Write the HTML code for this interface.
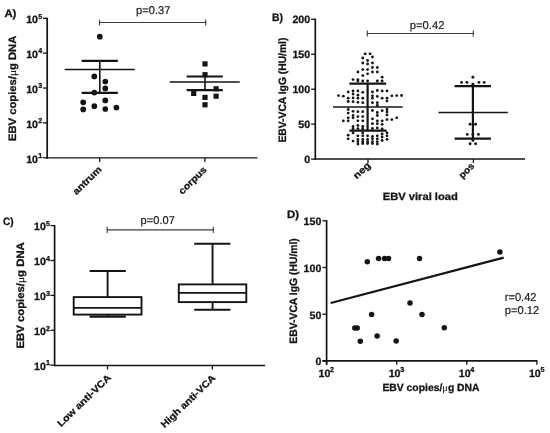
<!DOCTYPE html>
<html lang="en">
<head>
<meta charset="utf-8">
<title>EBV figure</title>
<style>
html,body{margin:0;padding:0;background:#fff;}
body{width:550px;height:433px;overflow:hidden;}
svg{display:block;}
svg g.soft{filter:blur(0.4px);}
svg text{font-family:"Liberation Sans",Arial,Helvetica,sans-serif;fill:#141414;text-rendering:geometricPrecision;}
svg text.b{font-weight:bold;stroke:#141414;stroke-width:0.3px;}
svg tspan.mu{font-weight:normal;font-family:"Liberation Serif","DejaVu Serif",serif;stroke-width:0.15px;}
svg text.r{font-weight:normal;stroke:#2a2a2a;stroke-width:0.2px;}
</style>
</head>
<body>
<svg width="550" height="433" viewBox="0 0 550 433">
<rect x="0" y="0" width="550" height="433" fill="#ffffff"/>
<g class="soft">
<g id="panelA">
<text font-size="10.8" class="b" textLength="12.00" lengthAdjust="spacingAndGlyphs" transform="translate(4.40 16.90)">A)</text>
<line x1="47.20" y1="17.70" x2="47.20" y2="158.60" stroke="#141414" stroke-width="1.7" stroke-linecap="butt"/>
<line x1="46.50" y1="157.90" x2="257.50" y2="157.90" stroke="#141414" stroke-width="1.4" stroke-linecap="butt"/>
<line x1="43.00" y1="157.78" x2="47.20" y2="157.78" stroke="#141414" stroke-width="1.3" stroke-linecap="butt"/>
<text font-size="10.6" class="b" transform="translate(26.20 162.58)">10</text>
<text font-size="7.2" class="b" transform="translate(38.20 157.98)">1</text>
<line x1="43.00" y1="122.91" x2="47.20" y2="122.91" stroke="#141414" stroke-width="1.3" stroke-linecap="butt"/>
<text font-size="10.6" class="b" transform="translate(26.20 127.71)">10</text>
<text font-size="7.2" class="b" transform="translate(38.20 123.11)">2</text>
<line x1="43.00" y1="88.04" x2="47.20" y2="88.04" stroke="#141414" stroke-width="1.3" stroke-linecap="butt"/>
<text font-size="10.6" class="b" transform="translate(26.20 92.84)">10</text>
<text font-size="7.2" class="b" transform="translate(38.20 88.24)">3</text>
<line x1="43.00" y1="53.17" x2="47.20" y2="53.17" stroke="#141414" stroke-width="1.3" stroke-linecap="butt"/>
<text font-size="10.6" class="b" transform="translate(26.20 57.97)">10</text>
<text font-size="7.2" class="b" transform="translate(38.20 53.37)">4</text>
<line x1="43.00" y1="18.30" x2="47.20" y2="18.30" stroke="#141414" stroke-width="1.3" stroke-linecap="butt"/>
<text font-size="10.6" class="b" transform="translate(26.20 23.10)">10</text>
<text font-size="7.2" class="b" transform="translate(38.20 18.50)">5</text>
<line x1="99.70" y1="157.90" x2="99.70" y2="161.90" stroke="#141414" stroke-width="1.3" stroke-linecap="butt"/>
<line x1="204.90" y1="157.90" x2="204.90" y2="161.90" stroke="#141414" stroke-width="1.3" stroke-linecap="butt"/>
<text font-size="10.7" class="b" textLength="105.40" lengthAdjust="spacingAndGlyphs" transform="translate(15.80 141.10) rotate(-90)">EBV copies/<tspan class="mu">μ</tspan>g DNA</text>
<line x1="99.00" y1="22.50" x2="206.20" y2="22.50" stroke="#3c3c3c" stroke-width="1.1" stroke-linecap="butt"/>
<line x1="99.50" y1="19.60" x2="99.50" y2="25.60" stroke="#3c3c3c" stroke-width="1.1" stroke-linecap="butt"/>
<line x1="205.70" y1="19.60" x2="205.70" y2="25.60" stroke="#3c3c3c" stroke-width="1.1" stroke-linecap="butt"/>
<text font-size="11.3" class="r" textLength="34.30" lengthAdjust="spacingAndGlyphs" transform="translate(136.10 14.10)" fill="#2a2a2a">p=0.37</text>
<g fill="#141414">
<circle cx="99.80" cy="36.70" r="2.85"/>
<circle cx="94.30" cy="76.40" r="2.85"/>
<circle cx="105.30" cy="81.50" r="2.85"/>
<circle cx="105.30" cy="88.40" r="2.85"/>
<circle cx="94.30" cy="92.60" r="2.85"/>
<circle cx="105.30" cy="100.40" r="2.85"/>
<circle cx="83.20" cy="102.30" r="2.85"/>
<circle cx="94.30" cy="106.20" r="2.85"/>
<circle cx="116.40" cy="107.60" r="2.85"/>
<circle cx="105.30" cy="109.00" r="2.85"/>
<circle cx="83.20" cy="109.40" r="2.85"/>
<rect x="202.40" y="61.30" width="5.2" height="5.2"/>
<rect x="202.40" y="72.10" width="5.2" height="5.2"/>
<rect x="213.50" y="86.20" width="5.2" height="5.2"/>
<rect x="191.10" y="90.80" width="5.2" height="5.2"/>
<rect x="213.50" y="93.60" width="5.2" height="5.2"/>
<rect x="202.40" y="94.80" width="5.2" height="5.2"/>
<rect x="202.40" y="102.20" width="5.2" height="5.2"/>
</g>
<line x1="99.80" y1="60.90" x2="99.80" y2="92.80" stroke="#141414" stroke-width="1.6" stroke-linecap="butt"/>
<line x1="81.60" y1="60.90" x2="117.80" y2="60.90" stroke="#141414" stroke-width="2.2" stroke-linecap="butt"/>
<line x1="81.60" y1="92.80" x2="117.80" y2="92.80" stroke="#141414" stroke-width="2.2" stroke-linecap="butt"/>
<line x1="64.70" y1="69.40" x2="134.70" y2="69.40" stroke="#141414" stroke-width="1.5" stroke-linecap="butt"/>
<line x1="205.00" y1="76.50" x2="205.00" y2="90.10" stroke="#141414" stroke-width="1.6" stroke-linecap="butt"/>
<line x1="186.60" y1="76.50" x2="222.80" y2="76.50" stroke="#141414" stroke-width="2.2" stroke-linecap="butt"/>
<line x1="186.60" y1="90.10" x2="222.80" y2="90.10" stroke="#141414" stroke-width="2.2" stroke-linecap="butt"/>
<line x1="169.70" y1="82.00" x2="239.70" y2="82.00" stroke="#141414" stroke-width="1.5" stroke-linecap="butt"/>
<text font-size="9.5" class="b" text-anchor="end" textLength="36.00" lengthAdjust="spacingAndGlyphs" transform="translate(102.20 170.00) rotate(-44.55)">antrum</text>
<text font-size="9.5" class="b" text-anchor="end" textLength="35.20" lengthAdjust="spacingAndGlyphs" transform="translate(207.30 170.30) rotate(-44.54)">corpus</text>
</g>
<g id="panelB">
<text font-size="10.8" class="b" textLength="11.00" lengthAdjust="spacingAndGlyphs" transform="translate(271.90 20.50)">B)</text>
<line x1="315.30" y1="18.60" x2="315.30" y2="159.80" stroke="#141414" stroke-width="1.7" stroke-linecap="butt"/>
<line x1="314.60" y1="159.00" x2="525.00" y2="159.00" stroke="#141414" stroke-width="1.4" stroke-linecap="butt"/>
<line x1="311.10" y1="159.10" x2="315.30" y2="159.10" stroke="#141414" stroke-width="1.3" stroke-linecap="butt"/>
<text font-size="10.6" class="b" text-anchor="end" transform="translate(310.10 163.00)">0</text>
<line x1="311.10" y1="124.15" x2="315.30" y2="124.15" stroke="#141414" stroke-width="1.3" stroke-linecap="butt"/>
<text font-size="10.6" class="b" text-anchor="end" transform="translate(310.10 128.05)">50</text>
<line x1="311.10" y1="89.20" x2="315.30" y2="89.20" stroke="#141414" stroke-width="1.3" stroke-linecap="butt"/>
<text font-size="10.6" class="b" text-anchor="end" transform="translate(310.10 93.10)">100</text>
<line x1="311.10" y1="54.25" x2="315.30" y2="54.25" stroke="#141414" stroke-width="1.3" stroke-linecap="butt"/>
<text font-size="10.6" class="b" text-anchor="end" transform="translate(310.10 58.15)">150</text>
<line x1="311.10" y1="19.30" x2="315.30" y2="19.30" stroke="#141414" stroke-width="1.3" stroke-linecap="butt"/>
<text font-size="10.6" class="b" text-anchor="end" transform="translate(310.10 23.20)">200</text>
<line x1="368.00" y1="159.10" x2="368.00" y2="162.90" stroke="#141414" stroke-width="1.3" stroke-linecap="butt"/>
<line x1="473.40" y1="159.10" x2="473.40" y2="162.90" stroke="#141414" stroke-width="1.3" stroke-linecap="butt"/>
<text font-size="10.7" class="b" textLength="104.90" lengthAdjust="spacingAndGlyphs" transform="translate(285.80 142.50) rotate(-90)">EBV-VCA IgG (HU/ml)</text>
<line x1="366.80" y1="33.50" x2="473.80" y2="33.50" stroke="#3c3c3c" stroke-width="1.1" stroke-linecap="butt"/>
<line x1="367.30" y1="30.40" x2="367.30" y2="36.60" stroke="#3c3c3c" stroke-width="1.1" stroke-linecap="butt"/>
<line x1="473.30" y1="30.40" x2="473.30" y2="36.60" stroke="#3c3c3c" stroke-width="1.1" stroke-linecap="butt"/>
<text font-size="11.3" class="r" textLength="34.60" lengthAdjust="spacingAndGlyphs" transform="translate(409.80 29.00)" fill="#2a2a2a">p=0.42</text>
<text font-size="10.4" class="b" textLength="75.10" lengthAdjust="spacingAndGlyphs" transform="translate(382.70 199.70)">EBV viral load</text>
<text font-size="9.5" class="b" text-anchor="end" textLength="19.76" lengthAdjust="spacingAndGlyphs" transform="translate(371.10 166.00) rotate(-43.18)">neg</text>
<text font-size="9.5" class="b" text-anchor="end" textLength="17.59" lengthAdjust="spacingAndGlyphs" transform="translate(474.85 166.65) rotate(-45.17)">pos</text>
<g fill="#141414">
<circle cx="365.18" cy="53.80" r="1.4"/>
<circle cx="370.03" cy="53.80" r="1.4"/>
<circle cx="372.45" cy="57.00" r="1.4"/>
<circle cx="362.75" cy="58.00" r="1.4"/>
<circle cx="367.60" cy="60.50" r="1.4"/>
<circle cx="362.75" cy="63.00" r="1.4"/>
<circle cx="372.45" cy="63.00" r="1.4"/>
<circle cx="367.60" cy="64.00" r="1.4"/>
<circle cx="372.45" cy="67.50" r="1.4"/>
<circle cx="377.30" cy="67.50" r="1.4"/>
<circle cx="362.75" cy="69.60" r="1.4"/>
<circle cx="367.60" cy="69.60" r="1.4"/>
<circle cx="357.90" cy="72.00" r="1.4"/>
<circle cx="372.45" cy="72.00" r="1.4"/>
<circle cx="377.30" cy="72.00" r="1.4"/>
<circle cx="367.60" cy="73.80" r="1.4"/>
<circle cx="362.75" cy="75.60" r="1.4"/>
<circle cx="382.15" cy="77.20" r="1.4"/>
<circle cx="353.05" cy="79.60" r="1.4"/>
<circle cx="357.90" cy="79.60" r="1.4"/>
<circle cx="357.90" cy="81.00" r="1.4"/>
<circle cx="362.75" cy="81.00" r="1.4"/>
<circle cx="367.60" cy="81.00" r="1.4"/>
<circle cx="377.30" cy="81.00" r="1.4"/>
<circle cx="382.15" cy="81.00" r="1.4"/>
<circle cx="338.50" cy="95.60" r="1.4"/>
<circle cx="343.35" cy="96.20" r="1.4"/>
<circle cx="343.35" cy="120.80" r="1.4"/>
<circle cx="348.20" cy="92.00" r="1.4"/>
<circle cx="348.20" cy="98.20" r="1.4"/>
<circle cx="348.20" cy="101.50" r="1.4"/>
<circle cx="348.20" cy="109.50" r="1.4"/>
<circle cx="348.20" cy="113.10" r="1.4"/>
<circle cx="348.20" cy="117.80" r="1.4"/>
<circle cx="348.20" cy="120.80" r="1.4"/>
<circle cx="348.20" cy="135.20" r="1.4"/>
<circle cx="348.20" cy="138.80" r="1.4"/>
<circle cx="353.05" cy="90.90" r="1.4"/>
<circle cx="353.05" cy="94.00" r="1.4"/>
<circle cx="353.05" cy="97.90" r="1.4"/>
<circle cx="353.05" cy="101.70" r="1.4"/>
<circle cx="353.05" cy="111.30" r="1.4"/>
<circle cx="353.05" cy="115.50" r="1.4"/>
<circle cx="353.05" cy="117.80" r="1.4"/>
<circle cx="353.05" cy="126.50" r="1.4"/>
<circle cx="353.05" cy="128.70" r="1.4"/>
<circle cx="353.05" cy="132.90" r="1.4"/>
<circle cx="353.05" cy="141.10" r="1.4"/>
<circle cx="357.90" cy="90.90" r="1.4"/>
<circle cx="357.90" cy="95.20" r="1.4"/>
<circle cx="357.90" cy="98.20" r="1.4"/>
<circle cx="357.90" cy="102.30" r="1.4"/>
<circle cx="357.90" cy="111.70" r="1.4"/>
<circle cx="357.90" cy="116.60" r="1.4"/>
<circle cx="357.90" cy="120.80" r="1.4"/>
<circle cx="357.90" cy="125.50" r="1.4"/>
<circle cx="357.90" cy="128.60" r="1.4"/>
<circle cx="357.90" cy="135.80" r="1.4"/>
<circle cx="357.90" cy="139.40" r="1.4"/>
<circle cx="357.90" cy="141.70" r="1.4"/>
<circle cx="357.90" cy="144.10" r="1.4"/>
<circle cx="362.75" cy="92.30" r="1.4"/>
<circle cx="362.75" cy="98.20" r="1.4"/>
<circle cx="362.75" cy="102.70" r="1.4"/>
<circle cx="362.75" cy="111.70" r="1.4"/>
<circle cx="362.75" cy="116.60" r="1.4"/>
<circle cx="362.75" cy="120.80" r="1.4"/>
<circle cx="362.75" cy="126.50" r="1.4"/>
<circle cx="362.75" cy="128.70" r="1.4"/>
<circle cx="362.75" cy="132.90" r="1.4"/>
<circle cx="362.75" cy="135.80" r="1.4"/>
<circle cx="362.75" cy="139.40" r="1.4"/>
<circle cx="362.75" cy="141.70" r="1.4"/>
<circle cx="362.75" cy="143.50" r="1.4"/>
<circle cx="367.60" cy="135.80" r="1.4"/>
<circle cx="367.60" cy="139.40" r="1.4"/>
<circle cx="367.60" cy="141.70" r="1.4"/>
<circle cx="367.60" cy="143.50" r="1.4"/>
<circle cx="372.45" cy="92.00" r="1.4"/>
<circle cx="372.45" cy="95.80" r="1.4"/>
<circle cx="372.45" cy="98.20" r="1.4"/>
<circle cx="372.45" cy="102.70" r="1.4"/>
<circle cx="372.45" cy="110.50" r="1.4"/>
<circle cx="372.45" cy="118.80" r="1.4"/>
<circle cx="372.45" cy="123.70" r="1.4"/>
<circle cx="372.45" cy="128.50" r="1.4"/>
<circle cx="372.45" cy="136.40" r="1.4"/>
<circle cx="372.45" cy="138.80" r="1.4"/>
<circle cx="372.45" cy="141.70" r="1.4"/>
<circle cx="372.45" cy="143.50" r="1.4"/>
<circle cx="377.30" cy="90.50" r="1.4"/>
<circle cx="377.30" cy="96.40" r="1.4"/>
<circle cx="377.30" cy="102.70" r="1.4"/>
<circle cx="377.30" cy="105.30" r="1.4"/>
<circle cx="377.30" cy="112.50" r="1.4"/>
<circle cx="377.30" cy="115.50" r="1.4"/>
<circle cx="377.30" cy="120.80" r="1.4"/>
<circle cx="377.30" cy="123.70" r="1.4"/>
<circle cx="377.30" cy="127.90" r="1.4"/>
<circle cx="377.30" cy="135.80" r="1.4"/>
<circle cx="377.30" cy="138.80" r="1.4"/>
<circle cx="377.30" cy="141.70" r="1.4"/>
<circle cx="377.30" cy="144.10" r="1.4"/>
<circle cx="382.15" cy="90.90" r="1.4"/>
<circle cx="382.15" cy="98.20" r="1.4"/>
<circle cx="382.15" cy="110.70" r="1.4"/>
<circle cx="382.15" cy="120.80" r="1.4"/>
<circle cx="382.15" cy="124.30" r="1.4"/>
<circle cx="382.15" cy="128.80" r="1.4"/>
<circle cx="382.15" cy="134.00" r="1.4"/>
<circle cx="382.15" cy="137.00" r="1.4"/>
<circle cx="382.15" cy="140.50" r="1.4"/>
<circle cx="387.00" cy="90.90" r="1.4"/>
<circle cx="387.00" cy="98.20" r="1.4"/>
<circle cx="387.00" cy="101.10" r="1.4"/>
<circle cx="387.00" cy="109.50" r="1.4"/>
<circle cx="387.00" cy="111.90" r="1.4"/>
<circle cx="387.00" cy="114.90" r="1.4"/>
<circle cx="387.00" cy="119.60" r="1.4"/>
<circle cx="387.00" cy="132.90" r="1.4"/>
<circle cx="387.00" cy="135.80" r="1.4"/>
<circle cx="387.00" cy="139.40" r="1.4"/>
<circle cx="391.85" cy="95.80" r="1.4"/>
<circle cx="391.85" cy="119.60" r="1.4"/>
<circle cx="396.70" cy="95.60" r="1.4"/>
<circle cx="396.70" cy="117.80" r="1.4"/>
<circle cx="401.55" cy="95.50" r="1.4"/>
<circle cx="472.90" cy="77.30" r="1.45"/>
<circle cx="461.60" cy="82.40" r="1.45"/>
<circle cx="466.90" cy="82.40" r="1.45"/>
<circle cx="478.90" cy="82.40" r="1.45"/>
<circle cx="484.20" cy="82.40" r="1.45"/>
<circle cx="472.90" cy="84.20" r="1.45"/>
<circle cx="470.10" cy="124.20" r="1.45"/>
<circle cx="475.60" cy="124.20" r="1.45"/>
<circle cx="467.30" cy="134.40" r="1.45"/>
<circle cx="478.40" cy="134.40" r="1.45"/>
<circle cx="472.90" cy="134.40" r="1.45"/>
<circle cx="472.90" cy="140.40" r="1.45"/>
<circle cx="470.10" cy="143.80" r="1.45"/>
<circle cx="475.60" cy="143.80" r="1.45"/>
</g>
<line x1="367.60" y1="83.60" x2="367.60" y2="130.70" stroke="#141414" stroke-width="2.2" stroke-linecap="butt"/>
<line x1="349.40" y1="83.60" x2="386.20" y2="83.60" stroke="#141414" stroke-width="2.2" stroke-linecap="butt"/>
<line x1="349.40" y1="130.70" x2="386.60" y2="130.70" stroke="#141414" stroke-width="2.2" stroke-linecap="butt"/>
<line x1="333.00" y1="107.10" x2="402.70" y2="107.10" stroke="#141414" stroke-width="1.5" stroke-linecap="butt"/>
<line x1="472.90" y1="86.10" x2="472.90" y2="138.50" stroke="#141414" stroke-width="2.2" stroke-linecap="butt"/>
<line x1="454.60" y1="86.20" x2="490.90" y2="86.20" stroke="#141414" stroke-width="2.2" stroke-linecap="butt"/>
<line x1="454.60" y1="138.60" x2="490.90" y2="138.60" stroke="#141414" stroke-width="2.2" stroke-linecap="butt"/>
<line x1="438.50" y1="112.40" x2="507.80" y2="112.40" stroke="#141414" stroke-width="1.5" stroke-linecap="butt"/>
</g>
<g id="panelC">
<text font-size="10.6" class="b" textLength="10.60" lengthAdjust="spacingAndGlyphs" transform="translate(3.00 225.00)">C)</text>
<line x1="54.60" y1="224.90" x2="54.60" y2="366.20" stroke="#141414" stroke-width="1.7" stroke-linecap="butt"/>
<line x1="53.90" y1="365.50" x2="265.10" y2="365.50" stroke="#141414" stroke-width="1.4" stroke-linecap="butt"/>
<line x1="50.40" y1="365.20" x2="54.60" y2="365.20" stroke="#141414" stroke-width="1.3" stroke-linecap="butt"/>
<text font-size="10.6" class="b" transform="translate(34.10 370.00)">10</text>
<text font-size="7.2" class="b" transform="translate(46.10 365.40)">1</text>
<line x1="50.40" y1="330.30" x2="54.60" y2="330.30" stroke="#141414" stroke-width="1.3" stroke-linecap="butt"/>
<text font-size="10.6" class="b" transform="translate(34.10 335.10)">10</text>
<text font-size="7.2" class="b" transform="translate(46.10 330.50)">2</text>
<line x1="50.40" y1="295.40" x2="54.60" y2="295.40" stroke="#141414" stroke-width="1.3" stroke-linecap="butt"/>
<text font-size="10.6" class="b" transform="translate(34.10 300.20)">10</text>
<text font-size="7.2" class="b" transform="translate(46.10 295.60)">3</text>
<line x1="50.40" y1="260.50" x2="54.60" y2="260.50" stroke="#141414" stroke-width="1.3" stroke-linecap="butt"/>
<text font-size="10.6" class="b" transform="translate(34.10 265.30)">10</text>
<text font-size="7.2" class="b" transform="translate(46.10 260.70)">4</text>
<line x1="50.40" y1="225.60" x2="54.60" y2="225.60" stroke="#141414" stroke-width="1.3" stroke-linecap="butt"/>
<text font-size="10.6" class="b" transform="translate(34.10 230.40)">10</text>
<text font-size="7.2" class="b" transform="translate(46.10 225.80)">5</text>
<line x1="107.50" y1="365.50" x2="107.50" y2="369.50" stroke="#141414" stroke-width="1.3" stroke-linecap="butt"/>
<line x1="212.30" y1="365.50" x2="212.30" y2="369.50" stroke="#141414" stroke-width="1.3" stroke-linecap="butt"/>
<text font-size="10.7" class="b" textLength="106.40" lengthAdjust="spacingAndGlyphs" transform="translate(23.90 348.60) rotate(-90)">EBV copies/<tspan class="mu">μ</tspan>g DNA</text>
<line x1="106.70" y1="229.80" x2="213.80" y2="229.80" stroke="#3c3c3c" stroke-width="1.2" stroke-linecap="butt"/>
<line x1="107.20" y1="226.70" x2="107.20" y2="232.90" stroke="#3c3c3c" stroke-width="1.1" stroke-linecap="butt"/>
<line x1="213.30" y1="226.70" x2="213.30" y2="232.90" stroke="#3c3c3c" stroke-width="1.1" stroke-linecap="butt"/>
<text font-size="11.3" class="r" textLength="34.20" lengthAdjust="spacingAndGlyphs" transform="translate(140.60 224.20)" fill="#2a2a2a">p=0.07</text>
<rect x="73.70" y="297.10" width="67.80" height="17.50" fill="none" stroke="#141414" stroke-width="1.9"/>
<line x1="73.70" y1="307.90" x2="141.50" y2="307.90" stroke="#141414" stroke-width="1.9" stroke-linecap="butt"/>
<line x1="107.60" y1="271.00" x2="107.60" y2="297.10" stroke="#141414" stroke-width="1.9" stroke-linecap="butt"/>
<line x1="107.60" y1="314.60" x2="107.60" y2="316.60" stroke="#141414" stroke-width="1.9" stroke-linecap="butt"/>
<line x1="89.60" y1="271.00" x2="125.80" y2="271.00" stroke="#141414" stroke-width="1.9" stroke-linecap="butt"/>
<line x1="89.60" y1="316.60" x2="125.80" y2="316.60" stroke="#141414" stroke-width="2.4" stroke-linecap="butt"/>
<rect x="178.80" y="284.40" width="67.50" height="17.70" fill="none" stroke="#141414" stroke-width="1.9"/>
<line x1="178.80" y1="292.90" x2="246.30" y2="292.90" stroke="#141414" stroke-width="1.9" stroke-linecap="butt"/>
<line x1="212.55" y1="243.80" x2="212.55" y2="284.40" stroke="#141414" stroke-width="1.9" stroke-linecap="butt"/>
<line x1="212.55" y1="302.10" x2="212.55" y2="309.80" stroke="#141414" stroke-width="1.9" stroke-linecap="butt"/>
<line x1="194.20" y1="243.80" x2="230.40" y2="243.80" stroke="#141414" stroke-width="1.9" stroke-linecap="butt"/>
<line x1="194.20" y1="309.80" x2="230.40" y2="309.80" stroke="#141414" stroke-width="1.9" stroke-linecap="butt"/>
<text font-size="9.5" class="b" text-anchor="end" textLength="70.45" lengthAdjust="spacingAndGlyphs" transform="translate(111.59 378.26) rotate(-44.14)">Low anti-VCA</text>
<text font-size="9.5" class="b" text-anchor="end" textLength="71.70" lengthAdjust="spacingAndGlyphs" transform="translate(216.09 378.55) rotate(-43.93)">High anti-VCA</text>
</g>
<g id="panelD">
<text font-size="10.8" class="b" textLength="12.00" lengthAdjust="spacingAndGlyphs" transform="translate(287.00 218.10)">D)</text>
<line x1="326.60" y1="220.10" x2="326.60" y2="364.70" stroke="#141414" stroke-width="1.7" stroke-linecap="butt"/>
<line x1="322.40" y1="360.90" x2="537.40" y2="360.90" stroke="#141414" stroke-width="1.6" stroke-linecap="butt"/>
<line x1="322.40" y1="360.90" x2="326.60" y2="360.90" stroke="#141414" stroke-width="1.3" stroke-linecap="butt"/>
<text font-size="10.6" class="b" text-anchor="end" transform="translate(321.30 365.30)">0</text>
<line x1="322.40" y1="314.20" x2="326.60" y2="314.20" stroke="#141414" stroke-width="1.3" stroke-linecap="butt"/>
<text font-size="10.6" class="b" text-anchor="end" transform="translate(321.30 318.60)">50</text>
<line x1="322.40" y1="267.50" x2="326.60" y2="267.50" stroke="#141414" stroke-width="1.3" stroke-linecap="butt"/>
<text font-size="10.6" class="b" text-anchor="end" transform="translate(321.30 271.90)">100</text>
<line x1="322.40" y1="220.80" x2="326.60" y2="220.80" stroke="#141414" stroke-width="1.3" stroke-linecap="butt"/>
<text font-size="10.6" class="b" text-anchor="end" transform="translate(321.30 225.20)">150</text>
<line x1="326.60" y1="360.90" x2="326.60" y2="364.70" stroke="#141414" stroke-width="1.3" stroke-linecap="butt"/>
<text font-size="10.6" class="b" transform="translate(318.60 377.10)">10</text>
<text font-size="7.2" class="b" transform="translate(330.10 372.20)">2</text>
<line x1="396.70" y1="360.90" x2="396.70" y2="364.70" stroke="#141414" stroke-width="1.3" stroke-linecap="butt"/>
<text font-size="10.6" class="b" transform="translate(388.70 377.10)">10</text>
<text font-size="7.2" class="b" transform="translate(400.20 372.20)">3</text>
<line x1="466.80" y1="360.90" x2="466.80" y2="364.70" stroke="#141414" stroke-width="1.3" stroke-linecap="butt"/>
<text font-size="10.6" class="b" transform="translate(458.80 377.10)">10</text>
<text font-size="7.2" class="b" transform="translate(470.30 372.20)">4</text>
<line x1="536.90" y1="360.90" x2="536.90" y2="364.70" stroke="#141414" stroke-width="1.3" stroke-linecap="butt"/>
<text font-size="10.6" class="b" transform="translate(528.90 377.10)">10</text>
<text font-size="7.2" class="b" transform="translate(540.40 372.20)">5</text>
<text font-size="10.7" class="b" textLength="105.50" lengthAdjust="spacingAndGlyphs" transform="translate(296.70 343.70) rotate(-90)">EBV-VCA IgG (HU/ml)</text>
<text font-size="10.4" class="b" textLength="97.20" lengthAdjust="spacingAndGlyphs" transform="translate(382.40 390.80)">EBV copies/<tspan class="mu">μ</tspan>g DNA</text>
<text font-size="11.5" class="r" textLength="31.70" lengthAdjust="spacingAndGlyphs" transform="translate(504.80 300.60)" fill="#2a2a2a">r=0.42</text>
<text font-size="11.3" class="r" textLength="34.40" lengthAdjust="spacingAndGlyphs" transform="translate(504.80 314.40)" fill="#2a2a2a">p=0.12</text>
<line x1="330.70" y1="303.00" x2="503.70" y2="257.60" stroke="#141414" stroke-width="2.2" stroke-linecap="butt"/>
<g fill="#141414">
<circle cx="367.30" cy="261.70" r="2.75"/>
<circle cx="378.60" cy="258.50" r="2.75"/>
<circle cx="384.60" cy="258.50" r="2.75"/>
<circle cx="388.50" cy="258.50" r="2.75"/>
<circle cx="419.50" cy="258.40" r="2.75"/>
<circle cx="499.90" cy="252.10" r="2.75"/>
<circle cx="371.60" cy="314.60" r="2.75"/>
<circle cx="354.80" cy="328.10" r="2.75"/>
<circle cx="357.20" cy="328.10" r="2.75"/>
<circle cx="360.30" cy="341.20" r="2.75"/>
<circle cx="377.10" cy="335.90" r="2.75"/>
<circle cx="396.20" cy="341.10" r="2.75"/>
<circle cx="410.00" cy="303.10" r="2.75"/>
<circle cx="422.00" cy="314.40" r="2.75"/>
<circle cx="444.30" cy="327.70" r="2.75"/>
</g>
</g>
</g>
</svg>
</body>
</html>
